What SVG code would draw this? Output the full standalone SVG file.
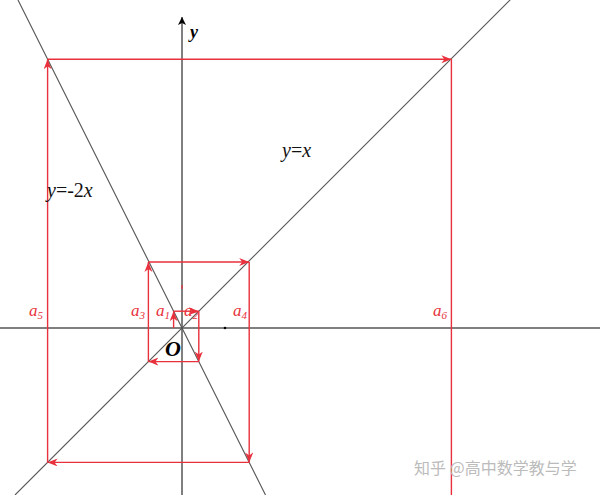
<svg xmlns="http://www.w3.org/2000/svg" width="600" height="495" viewBox="0 0 600 495">
<style>
.ax{stroke:#000;stroke-width:1;fill:none}
.ln{stroke:#555;stroke-width:1.1;fill:none}
.rd{stroke:#e8313c;stroke-width:1.4;fill:none}
.ar{marker-end:url(#ah)}
.lab{font-family:"Liberation Serif",serif;font-style:italic;fill:#e8313c;font-size:17px}
.sub{font-size:11px}
.eq{font-family:"Liberation Serif",serif;font-size:20px;fill:#111}
.wm{font-family:"Noto Sans CJK SC",sans-serif;font-size:16px;fill:#bbb}
</style>
<defs>
<marker id="ah" markerWidth="12" markerHeight="10" refX="10" refY="4" orient="auto" markerUnits="userSpaceOnUse">
<path d="M0,0 L10,4 L0,8 L3,4 z" fill="#e8313c"/>
</marker>
<marker id="ak" markerWidth="10" markerHeight="10" refX="8" refY="4" orient="auto" markerUnits="userSpaceOnUse">
<path d="M0,0 L8,4 L0,8 L2,4 z" fill="#000"/>
</marker>
</defs>
<rect width="600" height="495" fill="#fff"/>
<g id="axes">
<line class="ax" x1="0" y1="328" x2="600" y2="328"/>
<line class="ax" x1="182" y1="495" x2="182" y2="17" marker-end="url(#ak)"/>
<circle cx="225" cy="328" r="1.3" fill="#000"/>
<line x1="182" y1="285" x2="182" y2="289" stroke="#e8313c" stroke-width="1.2"/>
</g>
<g id="lines">
<line class="ln" x1="15" y1="495" x2="515" y2="-5"/>
<line class="ln" x1="18" y1="0" x2="265.5" y2="495"/>
</g>
<g id="connectors">
<line class="rd ar" x1="173.6" y1="328" x2="173.6" y2="311.2"/>
<line class="rd ar" x1="173.6" y1="311.2" x2="198.8" y2="311.2"/>
<line class="rd ar" x1="198.8" y1="311.2" x2="198.8" y2="361.6"/>
<line class="rd ar" x1="198.8" y1="361.6" x2="148.4" y2="361.6"/>
<line class="rd ar" x1="148.4" y1="361.6" x2="148.4" y2="262"/>
<line class="rd ar" x1="148.4" y1="262" x2="249.2" y2="262"/>
<line class="rd ar" x1="249.2" y1="262" x2="249.2" y2="462.4"/>
<line class="rd ar" x1="249.2" y1="462.4" x2="47.6" y2="462.4"/>
<line class="rd ar" x1="47.6" y1="462.4" x2="47.6" y2="59.2"/>
<line class="rd ar" x1="47.6" y1="59.2" x2="451.4" y2="59.2"/>
<line class="rd" x1="451.4" y1="59.2" x2="451.4" y2="495"/>
</g>
<g id="labels">
<text class="lab" x="131" y="316">a<tspan class="sub" dy="3">3</tspan></text>
<text class="lab" x="156" y="316">a<tspan class="sub" dy="3">1</tspan></text>
<text class="lab" x="184" y="316">a<tspan class="sub" dy="3">2</tspan></text>
<text class="lab" x="233" y="316">a<tspan class="sub" dy="3">4</tspan></text>
<text class="lab" x="29" y="316">a<tspan class="sub" dy="3">5</tspan></text>
<text class="lab" x="433" y="316">a<tspan class="sub" dy="3">6</tspan></text>
<text x="165" y="356" font-family="Liberation Serif,serif" font-style="italic" font-weight="bold" font-size="22" fill="#000">O</text>
<text x="190" y="38" font-family="Liberation Serif,serif" font-style="italic" font-weight="bold" font-size="18" fill="#000">y</text>
<text class="eq" x="47" y="197"><tspan font-style="italic">y</tspan>=-2<tspan font-style="italic">x</tspan></text>
<text class="eq" x="282" y="157"><tspan font-style="italic">y</tspan>=<tspan font-style="italic">x</tspan></text>
<text class="wm" x="414" y="474">知乎 @高中数学教与学</text>
</g>
</svg>
